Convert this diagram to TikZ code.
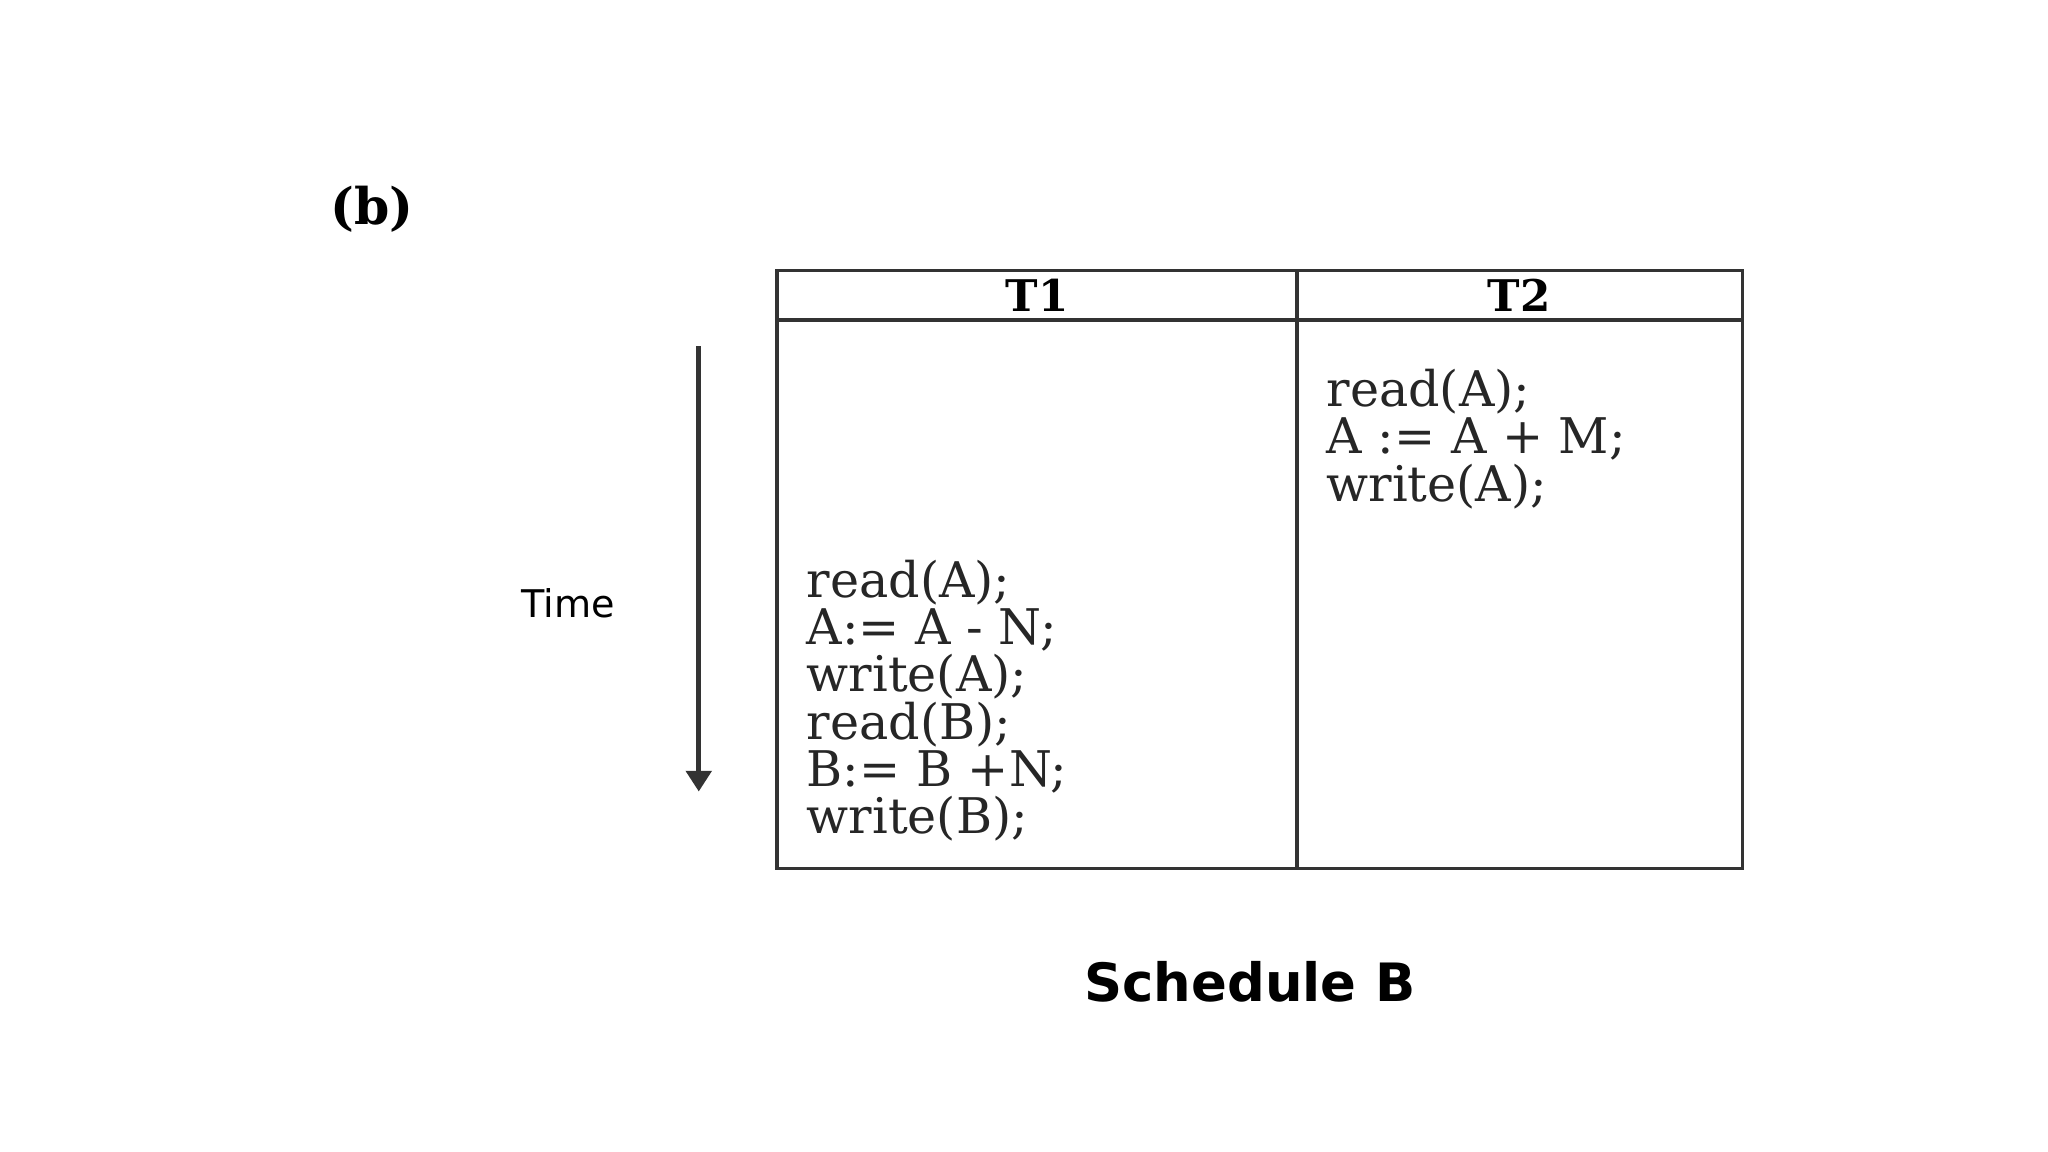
\documentclass[tikz,border=0pt]{standalone}
\usepackage{fontspec}
\setmainfont{DejaVu Serif}
\setsansfont{DejaVu Sans}
\usetikzlibrary{arrows.meta}
\begin{document}
\begin{tikzpicture}[x=0.01cm,y=-0.01cm,
  frame/.style={draw=black!80,line width=0.8pt},
  code/.style={anchor=north west,align=left,inner sep=0pt,font=\fontsize{10.7}{10.3}\selectfont,text=black!85}]
\useasboundingbox (0,0) rectangle (1568,882);
\fill[white] (0,0) rectangle (1568,882);
\draw[frame] (595,207) rectangle (1334,665);
\draw[frame] (595,245) -- (1334,245);
\draw[frame] (993,207) -- (993,665);
\node[font=\bfseries\fontsize{9.5}{11}\selectfont] (t1) at (794,226) {T1};
\node[font=\bfseries\fontsize{9.5}{11}\selectfont] (t2) at (1163,226) {T2};
\node[code] (c2) at (1015,282) {read(A);\\A := A + M;\\write(A);};
\node[code] (c1) at (617,428) {read(A);\\A:= A - N;\\write(A);\\read(B);\\B:= B +N;\\write(B);};
\coordinate (a1) at (535,265);
\coordinate (a2) at (535,606);
\draw[line width=1pt,black!80,-{Triangle[length=4.5pt,width=5.5pt]}] (a1) -- (a2);
\node[font=\sffamily\fontsize{8.3}{10}\selectfont] (time) at (435,462) {Time};
\node[font=\bfseries\fontsize{11}{12}\selectfont] (b) at (285,160) {(b)};
\node[font=\sffamily\bfseries\fontsize{11.5}{13}\selectfont] (sb) at (957,752) {Schedule B};
\end{tikzpicture}
\end{document}
